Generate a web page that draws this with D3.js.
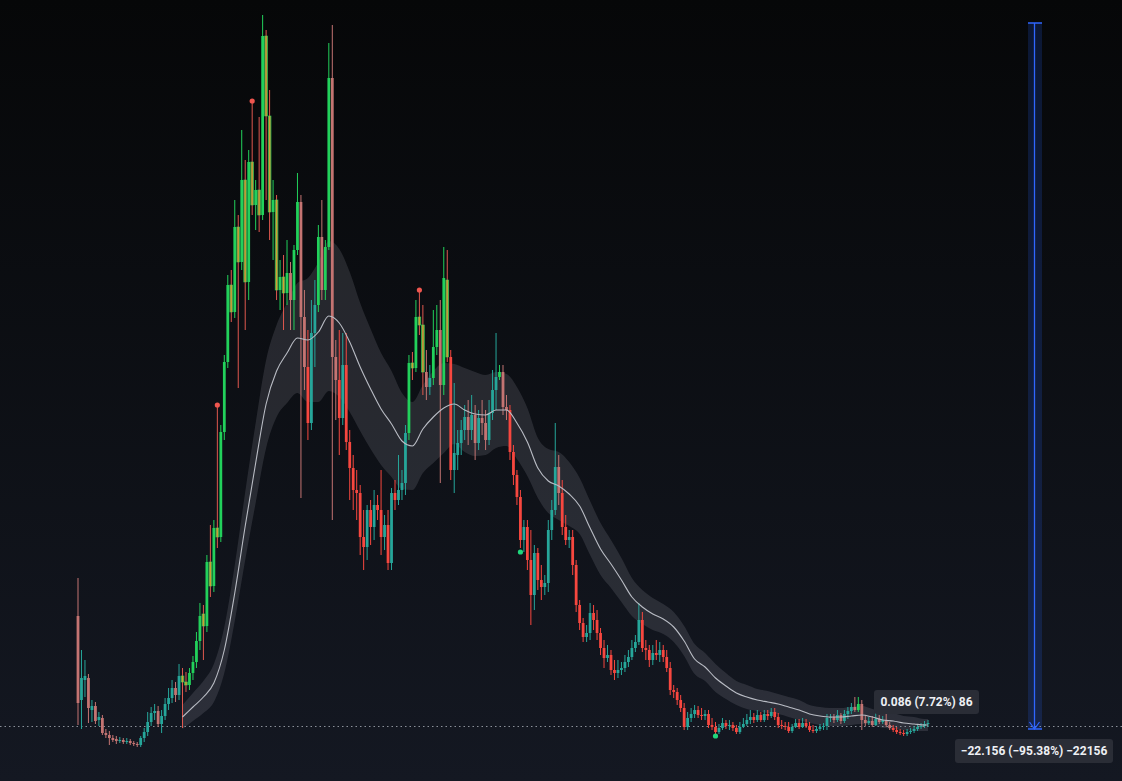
<!DOCTYPE html>
<html><head><meta charset="utf-8">
<script src="https://cdn.jsdelivr.net/npm/d3@7"></script>
<style>html,body{margin:0;padding:0;background:#0b0c10;overflow:hidden}svg{display:block}</style>
</head><body><svg id="c" width="1122" height="781"></svg>
<script>
// ---- data (price readings, arbitrary linear price units) ----
const opens = [144,60,80,82,50,54,40,42,27,25,22,21,19,20,18,19,17,16,15,22,
28,38,47,49,36,44,56,62,72,65,84,78,75,87,98,119,146,134,198,174,
232,223,328,398,475,448,533,498,580,478,598,555,570,545,724,644,548,560,470,483,
467,487,460,510,558,443,393,337,427,455,523,470,513,682,403,380,342,395,318,292,
270,267,223,213,250,233,255,250,223,235,197,267,260,270,277,327,397,392,443,435,
388,373,382,413,430,375,480,403,290,305,317,330,343,330,345,317,342,337,320,347,
370,383,388,353,350,308,285,263,220,233,200,165,207,180,173,177,230,250,293,267,
233,220,223,195,155,137,123,127,147,140,127,112,102,105,90,87,90,92,98,103,
112,118,140,112,110,100,107,105,110,103,92,70,68,60,52,33,42,46,50,45,
44,46,35,33,28,32,37,34,35,32,28,33,36,40,43,40,45,40,46,44,
48,43,35,34,33,29,33,37,33,37,34,30,29,31,33,34,42,43,40,45,
39,46,49,53,50,56,40,37,39,35,41,38,40,35,32,30,28,27,26,28,
29,31,33,34,36];
const closes = [57,82,84,52,54,39,43,27,25,22,20,19,20,18,19,17,16,15,22,28,
38,47,49,36,44,56,62,72,65,84,78,75,87,98,119,144,134,198,174,232,
223,328,398,475,448,533,498,580,478,598,555,570,545,724,644,548,560,470,483,467,
487,460,510,558,443,393,337,427,455,523,470,513,682,403,380,342,395,318,292,270,
267,223,213,250,233,255,250,223,235,197,267,260,270,277,327,397,392,443,435,388,
373,382,413,430,375,482,403,290,307,317,330,343,330,345,317,342,337,320,347,370,
383,388,353,350,308,285,263,220,233,200,165,207,180,173,177,230,250,293,267,233,
220,223,195,155,137,123,127,147,140,127,112,102,105,90,87,90,92,98,103,112,
118,140,112,110,100,107,105,110,103,92,70,68,60,52,33,42,46,50,45,44,
46,35,33,28,32,37,34,35,32,28,33,36,40,43,40,45,40,46,44,48,
43,35,34,33,29,33,37,33,37,34,30,29,31,33,34,42,43,40,45,39,
46,49,53,50,56,40,37,39,35,41,38,40,35,32,30,28,27,26,28,29,
31,33,34,36,37];
const highs = [182,110,100,86,60,58,48,45,31,29,25,24,23,22,22,21,19,18,24,32,
48,53,56,54,50,62,72,80,78,96,92,88,92,104,128,157,155,205,235,240,
355,335,405,485,490,560,545,630,600,610,659,580,643,745,730,670,580,565,500,505,
520,498,515,587,565,470,430,460,480,535,560,520,717,735,420,430,427,427,330,305,
290,275,250,255,260,270,265,290,245,250,272,280,305,290,335,405,408,460,470,455,
410,395,450,455,460,513,510,410,377,330,340,355,360,365,355,350,360,350,360,390,
427,395,395,365,355,315,290,270,240,240,230,215,212,195,185,240,260,337,305,280,
245,230,230,200,160,142,135,157,155,150,132,120,115,110,100,100,98,105,110,120,
125,157,148,120,115,115,120,118,115,110,98,75,72,65,57,48,52,55,54,52,
50,50,42,38,36,42,40,40,38,35,38,42,46,50,47,50,48,50,50,52,
52,47,40,38,38,36,41,41,42,41,38,35,34,36,37,46,46,46,50,47,
50,53,57,63,63,60,45,43,44,48,45,44,53,38,35,33,31,30,31,32,
34,36,37,39,40];
const lows = [35,31,63,37,38,36,34,25,22,15,18,16,17,16,16,15,14,13,13,18,
24,34,40,33,27,40,50,57,58,60,32,68,70,80,92,110,100,128,163,168,
212,218,320,392,438,442,372,490,430,460,545,530,528,540,560,520,500,460,450,430,
455,430,430,505,262,370,320,330,393,448,460,460,510,240,340,305,335,310,260,250,
240,205,190,200,215,220,240,205,210,190,190,250,255,260,265,320,380,388,425,365,
360,365,375,405,277,365,398,280,267,290,305,320,315,320,300,310,325,310,315,340,
350,380,345,340,300,275,255,212,208,190,135,150,170,160,165,168,220,245,255,225,
215,212,185,148,130,118,118,120,130,120,105,92,98,85,80,82,85,88,93,100,
108,115,108,100,93,95,100,98,98,88,65,62,55,48,30,30,38,42,42,40,
40,32,30,25,26,30,31,30,29,26,26,32,34,36,37,38,38,38,40,42,
40,32,31,30,27,27,32,31,32,32,28,27,27,29,30,30,38,37,38,36,
37,41,46,48,48,30,34,35,33,34,36,36,33,30,28,26,25,24,24,26,
27,29,31,32,33];

// moving average and its band half-width (read at candle indices)
const maIdx = [30,33,36,39,42,45,48,51,54,57,60,63,66,69,72,75,78,81,84,87,90,93,96,99,102,105,108,111,114,117,120,123,126,129,132,135,138,141,144,147,150,153,156,159,162,165,168,171,174,177,180,183,186,189,192,195,198,201,204,207,210,213,216,219,222,225,228,231,234,237,240,243,244];
const maVals = [43,53,63,77,110,167,234,297,356,389,407,422,420,428,444,437,418,393,371,351,336,319,314,331,343,352,356,350,346,345,350,350,337,318,292,279,274,266,254,232,211,196,180,163,153,146,141,133,119,101,93,82,74,67,63,60,58,56,53,50,46,44,43,43,44,45,43,40,39,37,36,35,35];
const bandHalf = [12,14,16,19,23,28,34,40,44,46,50,55,62,70,75,74,70,64,60,56,53,48,44,44,46,45,40,42,42,40,38,36,36,34,30,32,34,32,28,27,26,24,22,19,17,16,15,15,15,15,14,14,13,12,12,11,11,10,10,10,9,9,9,9,9,9,8,8,8,7,7,6,6];

// signal markers
const markIdx = [40,50,98,127,183];
const markVal = [355,659,470,208,24];
const markKind = ["sell","sell","sell","buy","buy"];

const refLevel = 34;            // dotted price line
const measureTop = 737, measureBottom = 31;
const lastLabel = "0.086 (7.72%) 86";
const measureLabel = "\u221222.156 (\u221295.38%) \u221222156";

// ---- drawing ----
const W = 1122, H = 781;
const svg = d3.select("#c");
const defs = svg.append("defs");
const bg = defs.append("linearGradient").attr("id","bg").attr("x1",0).attr("y1",0).attr("x2",0).attr("y2",1);
bg.append("stop").attr("offset","0%").attr("stop-color","#060708");
bg.append("stop").attr("offset","100%").attr("stop-color","#141822");
svg.append("rect").attr("width",W).attr("height",H).attr("fill","url(#bg)");

const n = opens.length;
const x = d3.scaleLinear().domain([0, n-1]).range([78, 928]);
const y = d3.scaleLinear().domain([0, 760]).range([760, 0]);
const step = x(1) - x(0);
const bw = step * 0.8;

const maS = d3.scaleLinear(maIdx, maVals).clamp(true);
const bwS = d3.scaleLinear(maIdx, bandHalf).clamp(true);

// band
const band = d3.area().x((d,i)=>x(maIdx[i])).y0((d,i)=>y(maVals[i]-bandHalf[i])).y1((d,i)=>y(maVals[i]+bandHalf[i])).curve(d3.curveMonotoneX);
svg.append("path").datum(maVals).attr("d", band).attr("fill","rgba(185,190,200,0.15)");

// dotted level
svg.append("line").attr("x1",0).attr("x2",W).attr("y1",Math.round(y(refLevel))+0.5).attr("y2",Math.round(y(refLevel))+0.5)
  .attr("stroke","#8b9099").attr("stroke-width",1).attr("stroke-dasharray","1.5,3");

const COL = {green:"#22d15b", teal:"#26a69a", red:"#f7473f", muted:"#c47472", olive:"#8e9440"};
function tone(i){
  const up = closes[i] >= opens[i];
  if (i < maIdx[0]) return up ? "teal" : "muted";
  const m = maS(i), b = bwS(i);
  if (up) return closes[i] > m + b ? "green" : "teal";
  if (closes[i] < m - b) return "red";
  if (closes[i] > m + b) return "olive";
  return "muted";
}
const idx = d3.range(n);
const g = svg.append("g");
g.selectAll("line.w").data(idx).join("line").attr("class","w")
  .attr("x1", i=>x(i)).attr("x2", i=>x(i))
  .attr("y1", i=>y(highs[i])).attr("y2", i=>y(lows[i]))
  .attr("stroke", i=>{const t=tone(i); return t==="olive" ? "#e0584f" : COL[t];})
  .attr("stroke-width", 1);
g.selectAll("rect.b").data(idx).join("rect").attr("class","b")
  .attr("x", i=>x(i)-bw/2).attr("width", bw)
  .attr("y", i=>y(Math.max(opens[i],closes[i])))
  .attr("height", i=>Math.max(1, Math.abs(y(opens[i])-y(closes[i]))))
  .attr("fill", i=>COL[tone(i)])
  .attr("stroke", i=>tone(i)==="olive" ? "#2fd35a" : "none")
  .attr("stroke-width", 0.6);
g.selectAll("line.o").data(idx.filter(i=>tone(i)==="olive")).join("line").attr("class","o")
  .attr("x1", i=>x(i)).attr("x2", i=>x(i))
  .attr("y1", i=>y(opens[i])).attr("y2", i=>y(closes[i]))
  .attr("stroke","#f0a030").attr("stroke-width",0.9).attr("opacity",0.85);

// MA line
const line = d3.line().x((d,i)=>x(maIdx[i])).y(d=>y(d)).curve(d3.curveMonotoneX);
svg.append("path").datum(maVals).attr("d", line).attr("fill","none").attr("stroke","#b9bcc4").attr("stroke-width",1.1);

// markers
svg.selectAll("circle.m").data(markIdx).join("circle").attr("class","m")
  .attr("cx",(d)=>x(d)).attr("cy",(d,i)=>y(markVal[i])).attr("r",2.6)
  .attr("fill",(d,i)=>markKind[i]==="sell" ? "#f0564f" : "#1ed67c");

// measure bar
const mx0 = 1028, mx1 = 1042, mxc = 1034.5;
const yT = y(measureTop), yB = y(measureBottom);
svg.append("rect").attr("x",mx0).attr("y",yT).attr("width",mx1-mx0).attr("height",yB-yT).attr("fill","rgba(41,98,255,0.18)");
svg.append("line").attr("x1",mxc).attr("x2",mxc).attr("y1",yT).attr("y2",yB).attr("stroke","#2f66ff").attr("stroke-width",1.3);
svg.append("line").attr("x1",mx0).attr("x2",mx1).attr("y1",yT).attr("y2",yT).attr("stroke","#2f66ff").attr("stroke-width",1.5);
svg.append("line").attr("x1",mx0).attr("x2",mx1).attr("y1",yB).attr("y2",yB).attr("stroke","#2f66ff").attr("stroke-width",1.5);
svg.append("path").attr("d",`M${mxc-5},${yB-7}L${mxc},${yB}L${mxc+5},${yB-7}`).attr("fill","none").attr("stroke","#2f66ff").attr("stroke-width",1.2);

// labels
function label(cx, cy, w, h, txt){
  svg.append("rect").attr("x",cx-w/2).attr("y",cy-h/2).attr("width",w).attr("height",h).attr("rx",3).attr("fill","#2a2d36");
  svg.append("text").attr("x",cx).attr("y",cy).attr("text-anchor","middle").attr("dominant-baseline","central")
    .attr("fill","#eef0f4").attr("font-family","Roboto, 'Noto Sans', sans-serif").attr("font-size",12).attr("font-weight",700).text(txt);
}
label(926.5, 702, 105, 24, lastLabel);
label(1034, 751, 158, 24, measureLabel);
</script></body></html>
